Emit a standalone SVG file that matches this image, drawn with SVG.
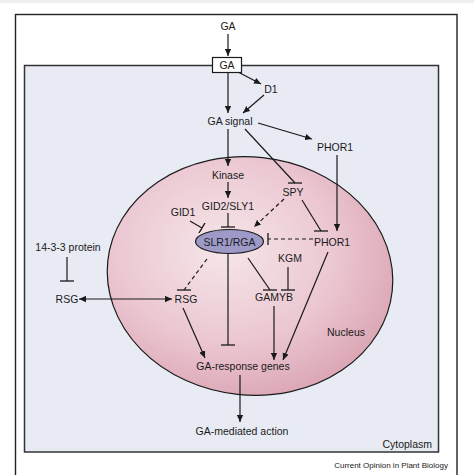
<svg xmlns="http://www.w3.org/2000/svg" width="474" height="475" viewBox="0 0 474 475">
<defs>
<radialGradient id="nuc" cx="0.4" cy="0.4" r="0.65">
<stop offset="0" stop-color="#f6e6ea"/>
<stop offset="0.6" stop-color="#ebc7d1"/>
<stop offset="1" stop-color="#dba5b4"/>
</radialGradient>
<marker id="arr" viewBox="0 0 10 10" refX="10" refY="5" markerWidth="7" markerHeight="7" orient="auto-start-reverse" markerUnits="userSpaceOnUse">
<path d="M0,0.5 L10,5 L0,9.5 z" fill="#1a1a1a"/>
</marker>
<marker id="tee" viewBox="0 0 2 12" refX="1" refY="6" markerWidth="2" markerHeight="12" orient="auto" markerUnits="userSpaceOnUse">
<line x1="1" y1="0" x2="1" y2="12" stroke="#1a1a1a" stroke-width="1.3"/>
</marker>
<marker id="teeH" viewBox="0 0 14 2" refX="7" refY="1" markerWidth="14" markerHeight="2" orient="0" markerUnits="userSpaceOnUse">
<line x1="0" y1="1" x2="14" y2="1" stroke="#1a1a1a" stroke-width="1.3"/>
</marker>
</defs>
<style>
text{font-family:"Liberation Sans",Arial,sans-serif;font-size:10.5px;fill:#1a1a1a;text-anchor:middle}
.c line,.c path{stroke:#1a1a1a;stroke-width:1.2;fill:none}
.a{marker-end:url(#arr)}
.t{marker-end:url(#tee)}
.th{marker-end:url(#teeH)}
.d{stroke-dasharray:4 3}
</style>
<rect x="0" y="0" width="474" height="475" fill="#ffffff"/>
<rect x="0" y="0" width="474" height="3" fill="#eeeeee"/>
<rect x="15.5" y="14.5" width="441.5" height="465" fill="#ffffff" stroke="#222" stroke-width="1.4"/>
<g id="cytoplasm">
<rect x="24.5" y="65.5" width="414" height="386.5" fill="#e8ebf4" stroke="#333" stroke-width="1.5"/>
<text x="432" y="448" style="text-anchor:end">Cytoplasm</text>
</g>
<g id="nucleus">
<ellipse cx="250" cy="276" rx="143" ry="119" transform="rotate(6 250 276)" fill="url(#nuc)" stroke="#1a1a1a" stroke-width="1.2"/>
<text x="346" y="336">Nucleus</text>
</g>
<g class="c" id="connectors">
<line class="a" x1="228" y1="34" x2="228" y2="56"/>
<line class="a" x1="238" y1="72" x2="261" y2="84"/>
<line class="a" x1="264" y1="95" x2="243" y2="113"/>
<line class="a" x1="228" y1="72" x2="228" y2="113"/>
<line class="a" x1="258" y1="123" x2="312" y2="139"/>
<line class="a" x1="228" y1="129" x2="228" y2="166"/>
<line class="th" x1="245" y1="129" x2="295" y2="183"/>
<line class="a" x1="228" y1="182" x2="228" y2="198"/>
<line class="th" x1="228" y1="213" x2="228" y2="227"/>
<line class="t" x1="190" y1="221" x2="202" y2="228"/>
<line class="a d" x1="284" y1="199" x2="254" y2="227"/>
<line class="th" x1="302" y1="200" x2="321" y2="231"/>
<line class="a" x1="337" y1="155" x2="337" y2="231"/>
<line class="t d" x1="313" y1="239" x2="268" y2="239"/>
<line class="th" x1="288" y1="267" x2="288" y2="290"/>
<line class="th" x1="248" y1="258" x2="270" y2="290"/>
<line class="th" x1="228" y1="254" x2="228" y2="345"/>
<line class="a" x1="274" y1="306" x2="274" y2="360"/>
<line class="a" x1="328" y1="252" x2="283" y2="360"/>
<line class="a" x1="240" y1="375" x2="240" y2="422"/>
<line class="th d" x1="207" y1="259" x2="184" y2="290"/>
<line class="th" x1="67" y1="257" x2="67" y2="281"/>
<line class="a" x1="79" y1="299" x2="172" y2="299" style="marker-start:url(#arr)"/>
<line class="a" x1="183" y1="308" x2="205" y2="358"/>
</g>
<g id="ga-top"><text x="228" y="30">GA</text></g>
<g id="ga-box"><rect x="212.5" y="57.5" width="29" height="15" fill="#ffffff" stroke="#1a1a1a" stroke-width="1.2"/><text x="227" y="68.5">GA</text></g>
<g id="d1"><text x="271" y="93">D1</text></g>
<g id="ga-signal"><text x="230" y="125">GA signal</text></g>
<g id="phor1-out"><text x="335" y="151">PHOR1</text></g>
<g id="kinase"><text x="228" y="179">Kinase</text></g>
<g id="spy"><text x="293" y="196">SPY</text></g>
<g id="gid2"><text x="228" y="210">GID2/SLY1</text></g>
<g id="gid1"><text x="183" y="216">GID1</text></g>
<g id="slr1"><ellipse cx="229.5" cy="241.5" rx="34" ry="12" fill="#9e9ac8" stroke="#1a1a1a" stroke-width="1.2"/><text x="229.5" y="245.5">SLR1/RGA</text></g>
<g id="phor1-in"><text x="332" y="246">PHOR1</text></g>
<g id="kgm"><text x="290" y="262">KGM</text></g>
<g id="gamyb"><text x="274" y="301">GAMYB</text></g>
<g id="p1433"><text x="68" y="251">14-3-3 protein</text></g>
<g id="rsg-out"><text x="67" y="303">RSG</text></g>
<g id="rsg-in"><text x="186" y="303">RSG</text></g>
<g id="ga-genes"><text x="243" y="370">GA-response genes</text></g>
<g id="ga-action"><text x="242" y="435">GA-mediated action</text></g>
<text x="448" y="468" style="text-anchor:end;font-size:8px">Current Opinion in Plant Biology</text>
</svg>
